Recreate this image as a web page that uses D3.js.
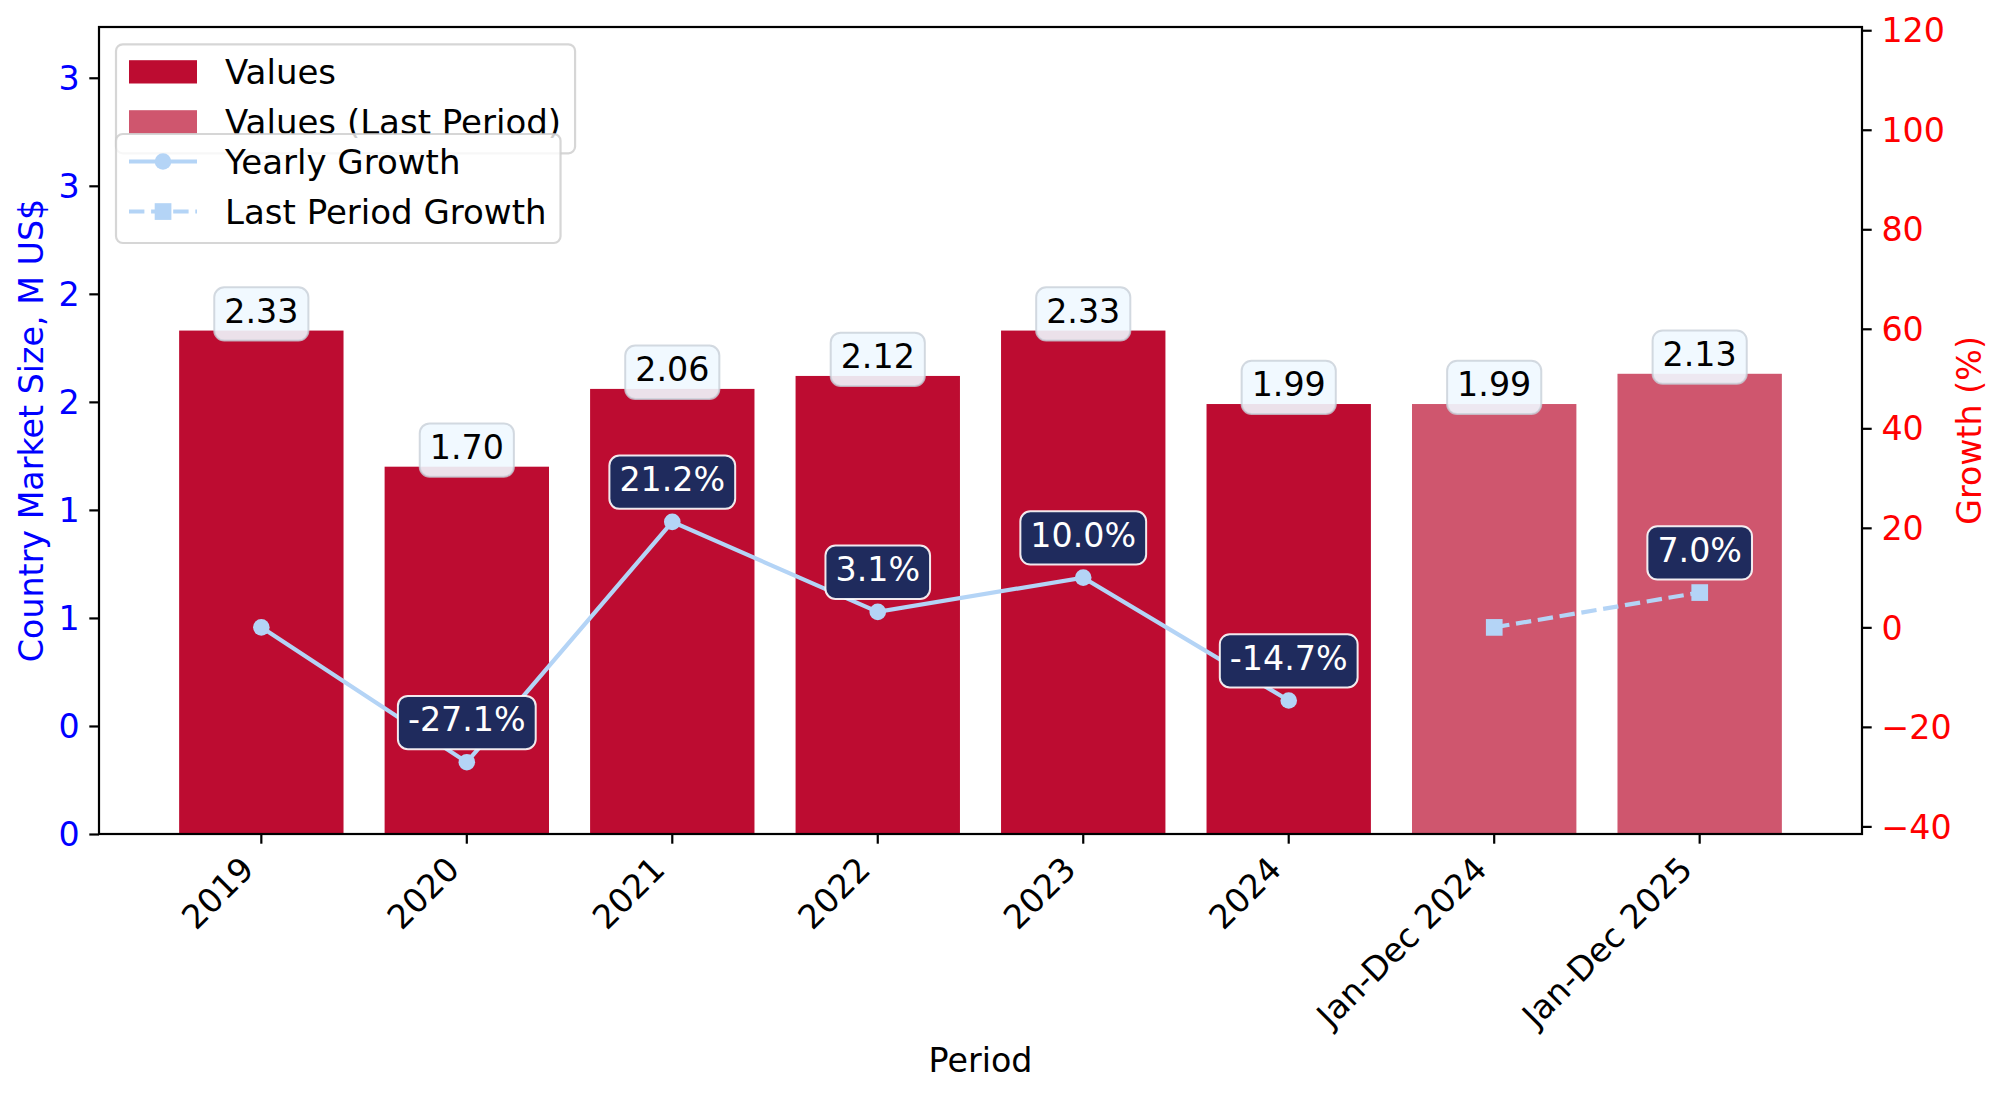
<!DOCTYPE html>
<html>
<head>
<meta charset="utf-8">
<script src="https://cdn.jsdelivr.net/npm/d3@7"></script>
<style>
  body { margin: 0; background: #ffffff; }
  svg text { font-family: "DejaVu Sans", sans-serif; }
</style>
</head>
<body>
<div id="graphicContainer"></div>
<script>

// data
const periods = ["2019", "2020", "2021", "2022", "2023", "2024", "Jan-Dec 2024", "Jan-Dec 2025"]
const values = [2.33, 1.70, 2.06, 2.12, 2.33, 1.99, 1.99, 2.13]
const isLastPeriod = [false, false, false, false, false, false, true, true]
const yearlyPeriods = ["2019", "2020", "2021", "2022", "2023", "2024"]
const yearlyGrowth = [0, -27.1, 21.2, 3.1, 10.0, -14.7]
const lastPeriods = ["Jan-Dec 2024", "Jan-Dec 2025"]
const lastPeriodGrowth = [0, 7.0]
const leftTicks = [0, 0.5, 1, 1.5, 2, 2.5, 3, 3.5]
const leftTickLabels = ["0", "0", "1", "1", "2", "2", "3", "3"]
const rightTicks = [-40, -20, 0, 20, 40, 60, 80, 100, 120]

const fontSize = 33.3
const legendFont = 34
const tickLen = 9.7
const tickPad = 9.7
const spineWidth = 2.2
const pad = 10

const barColor = "#bd0c31"
const lastColor = "#cf566e"
const lineColor = "#b4d4f6"
const navy = "#1f2b5d"

const totalWidth = 2010
const totalHeight = 1097
const marginleft = 99
const margintop = 27
const width = 1763
const height = 807

const svg = d3.select("#graphicContainer")
  .append("svg")
  .attr("width", totalWidth)
  .attr("height", totalHeight)

const features = svg
  .append("g")
  .attr("transform", "translate(" + marginleft + "," + margintop + ")")

const x = d3.scaleBand()
  .domain(periods)
  .range([0, width])
  .paddingInner(0.2)
  .paddingOuter(0.39)

const yLeft = d3.scaleLinear()
  .domain([0, 3.735])
  .range([height, 0])

const yRight = d3.scaleLinear()
  .domain([-41.53, 120.65])
  .range([height, 0])

const cx = (d) => x(d) + x.bandwidth() / 2

// text in a rounded box; anchorY is the bottom of the text line (va=bottom)
function boxLabel(g, px, anchorY, label, fill, fillOpacity, stroke, strokeOpacity, color) {
  const lab = g.append("g")
  const rect = lab.append("rect")
  const t = lab.append("text")
    .attr("x", px)
    .attr("y", anchorY - 7.8)
    .attr("text-anchor", "middle")
    .attr("fill", color)
    .style("font-size", fontSize + "px")
    .text(label)
  const w = t.node().getComputedTextLength()
  rect
    .attr("x", px - w / 2 - pad)
    .attr("y", anchorY - fontSize - pad)
    .attr("width", w + 2 * pad)
    .attr("height", fontSize + 2 * pad)
    .attr("rx", pad)
    .attr("fill", fill)
    .attr("fill-opacity", fillOpacity)
    .attr("stroke", stroke)
    .attr("stroke-opacity", strokeOpacity)
    .attr("stroke-width", 2)
}

// bars
features
  .selectAll(".barPart")
  .data(periods)
  .enter()
  .append("rect")
  .attr("class", "barPart")
  .attr("x", (d) => x(d))
  .attr("width", x.bandwidth())
  .attr("y", (d, i) => yLeft(values[i]))
  .attr("height", (d, i) => height - yLeft(values[i]))
  .attr("fill", (d, i) => isLastPeriod[i] ? lastColor : barColor)

// value labels
const valueLabels = features.append("g")
periods.forEach((p, i) => {
  boxLabel(valueLabels, cx(p), yLeft(values[i]), values[i].toFixed(2), "#f0f8ff", 0.9, "#c8d0d8", 0.8, "#000000")
})

// left axis
const yAxisLeft = d3.axisLeft(yLeft)
  .tickValues(leftTicks)
  .tickFormat((d) => leftTickLabels[leftTicks.indexOf(d)])
  .tickSize(tickLen)
  .tickPadding(tickPad)
  .tickSizeOuter(0)

const leftG = features.append("g").attr("class", "y").call(yAxisLeft)
leftG.select(".domain").remove()
leftG.selectAll(".tick line").attr("stroke", "#000").attr("stroke-width", spineWidth)
leftG.selectAll(".tick text")
  .attr("fill", "#0000ff")
  .attr("dy", "0.35em")
  .style("font-size", fontSize + "px")
  .style("font-family", "DejaVu Sans")

// x axis
const xAxis = d3.axisBottom(x)
  .tickSize(tickLen)
  .tickSizeOuter(0)

const xG = features.append("g")
  .attr("class", "x")
  .attr("transform", "translate(0," + height + ")")
  .call(xAxis)
xG.select(".domain").remove()
xG.selectAll(".tick line").attr("stroke", "#000").attr("stroke-width", spineWidth)
const lx = -5.5
const ly = tickLen + tickPad + 17.9
xG.selectAll(".tick text")
  .attr("x", lx)
  .attr("y", ly)
  .attr("dy", null)
  .attr("text-anchor", "end")
  .attr("transform", "rotate(-45," + lx + "," + ly + ")")
  .attr("fill", "#000")
  .style("font-size", fontSize + "px")
  .style("font-family", "DejaVu Sans")

// right axis
const yAxisRight = d3.axisRight(yRight)
  .tickValues(rightTicks)
  .tickFormat((d) => d < 0 ? "\u2212" + Math.abs(d) : String(d))
  .tickSize(tickLen)
  .tickPadding(tickPad)
  .tickSizeOuter(0)

const rightG = features.append("g")
  .attr("class", "y2")
  .attr("transform", "translate(" + width + ",0)")
  .call(yAxisRight)
rightG.select(".domain").remove()
rightG.selectAll(".tick line").attr("stroke", "#000").attr("stroke-width", spineWidth)
rightG.selectAll(".tick text")
  .attr("fill", "#ff0000")
  .attr("dy", "0.35em")
  .style("font-size", fontSize + "px")
  .style("font-family", "DejaVu Sans")

// frame
features.append("rect")
  .attr("x", 0)
  .attr("y", 0)
  .attr("width", width)
  .attr("height", height)
  .attr("fill", "none")
  .attr("stroke", "#000")
  .attr("stroke-width", spineWidth)

// legends
function addLegend(top, entries) {
  const lg = svg.append("g")
  const frame = lg.append("rect")
  const left = marginleft + 17
  const textX = left + 109
  let maxW = 0
  entries.forEach((e, i) => {
    const cy = top + 27.5 + i * 50
    const hx0 = left + 13
    const hx1 = hx0 + 68
    if (e.type == "patch") {
      lg.append("rect")
        .attr("x", hx0).attr("y", cy - 11.6)
        .attr("width", hx1 - hx0).attr("height", 23.3)
        .attr("fill", e.color)
    } else {
      lg.append("line")
        .attr("x1", hx0).attr("x2", hx1)
        .attr("y1", cy).attr("y2", cy)
        .attr("stroke", lineColor)
        .attr("stroke-width", 4.2)
        .attr("stroke-dasharray", e.dashed ? "15.4 6.7" : null)
      const mx = (hx0 + hx1) / 2
      if (e.marker == "circle") {
        lg.append("circle").attr("cx", mx).attr("cy", cy).attr("r", 8.3).attr("fill", lineColor)
      } else {
        lg.append("rect").attr("x", mx - 8.3).attr("y", cy - 8.3).attr("width", 16.7).attr("height", 16.7).attr("fill", lineColor)
      }
    }
    const t = lg.append("text")
      .attr("x", textX)
      .attr("y", cy + 12)
      .attr("fill", "#000")
      .style("font-size", legendFont + "px")
      .text(e.label)
    maxW = Math.max(maxW, t.node().getComputedTextLength())
  })
  frame
    .attr("x", left)
    .attr("y", top)
    .attr("width", textX - left + maxW + 14)
    .attr("height", 109)
    .attr("rx", 6.7)
    .attr("fill", "#ffffff")
    .attr("fill-opacity", 0.8)
    .attr("stroke", "#cccccc")
    .attr("stroke-opacity", 0.8)
    .attr("stroke-width", spineWidth)
}

addLegend(44.3, [
  { type: "patch", color: barColor, label: "Values" },
  { type: "patch", color: lastColor, label: "Values (Last Period)" }
])

// growth lines (second axis, drawn above the first)
const ax2 = svg.append("g").attr("transform", "translate(" + marginleft + "," + margintop + ")")

const line = d3.line()
  .x((d) => cx(d.p))
  .y((d) => yRight(d.g))

const yearly = yearlyPeriods.map((p, i) => ({ p: p, g: yearlyGrowth[i] }))
const lastp = lastPeriods.map((p, i) => ({ p: p, g: lastPeriodGrowth[i] }))

ax2.append("path")
  .datum(yearly)
  .attr("d", line)
  .attr("fill", "none")
  .attr("stroke", lineColor)
  .attr("stroke-width", 4.2)

ax2.selectAll(".yearlyDot")
  .data(yearly)
  .enter()
  .append("circle")
  .attr("cx", (d) => cx(d.p))
  .attr("cy", (d) => yRight(d.g))
  .attr("r", 8.3)
  .attr("fill", lineColor)

ax2.append("path")
  .datum(lastp)
  .attr("d", line)
  .attr("fill", "none")
  .attr("stroke", lineColor)
  .attr("stroke-width", 4.2)
  .attr("stroke-dasharray", "15.4 6.7")

ax2.selectAll(".lastDot")
  .data(lastp)
  .enter()
  .append("rect")
  .attr("x", (d) => cx(d.p) - 8.3)
  .attr("y", (d) => yRight(d.g) - 8.3)
  .attr("width", 16.7)
  .attr("height", 16.7)
  .attr("fill", lineColor)

yearly.concat(lastp).forEach((d) => {
  if (d.g != 0) {
    boxLabel(ax2, cx(d.p), yRight(d.g) - 23, d.g.toFixed(1) + "%", navy, 1, "#ffffff", 0.9, "#ffffff")
  }
})

addLegend(134, [
  { type: "line", marker: "circle", dashed: false, label: "Yearly Growth" },
  { type: "line", marker: "square", dashed: true, label: "Last Period Growth" }
])

// axis titles
svg.append("text")
  .attr("transform", "translate(43," + (margintop + height / 2) + ") rotate(-90)")
  .attr("text-anchor", "middle")
  .attr("fill", "#0000ff")
  .style("font-size", fontSize + "px")
  .text("Country Market Size, M US$")

svg.append("text")
  .attr("transform", "translate(1981," + (margintop + height / 2) + ") rotate(-90)")
  .attr("text-anchor", "middle")
  .attr("fill", "#ff0000")
  .style("font-size", fontSize + "px")
  .text("Growth (%)")

svg.append("text")
  .attr("x", marginleft + width / 2)
  .attr("y", 1072)
  .attr("text-anchor", "middle")
  .attr("fill", "#000")
  .style("font-size", fontSize + "px")
  .text("Period")

</script>
</body>
</html>
